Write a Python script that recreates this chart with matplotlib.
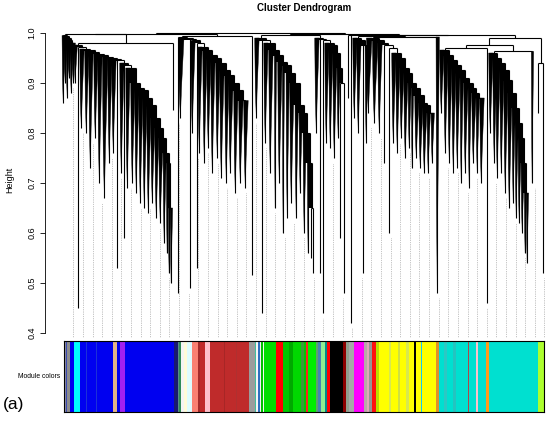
import matplotlib
matplotlib.use("Agg")
import matplotlib.pyplot as plt
from matplotlib.patches import Polygon, Rectangle
import numpy as np

plt.rcParams['font.family'] = ['Liberation Sans', 'DejaVu Sans']

# ---------- dendrogram data ----------
# each module branch: leaf order position, leaf bottom height, dense-branch width,
# and the heights at which each leaf joins the rest of the branch (left to right)
grey_pos = [0, 2, 4, 6, 8, 10]
grey_bottom = [0.86, 0.90, 0.87, 0.91, 0.88, 0.90]
grey_width = [3, 3, 3, 3, 3, 3]
grey_merge = [0.995, 0.993, 0.99, 0.985, 0.98]

blue_pos = [12, 15, 18, 23, 27, 32, 36, 41, 46, 50, 54, 58, 61, 64, 69, 73, 77, 81,
            85, 89, 93, 97, 101, 104, 106, 108]
blue_bottom = [0.90, 0.45, 0.81, 0.80, 0.73, 0.79, 0.70, 0.67, 0.74, 0.76, 0.53, 0.72,
               0.59, 0.69, 0.70, 0.68, 0.66, 0.65, 0.64, 0.66, 0.63, 0.62, 0.58, 0.56,
               0.52, 0.50]
blue_width = [3, 1, 4, 4, 4, 4, 4, 5, 4, 4, 1, 4, 1, 4, 4, 4, 4, 4, 4, 4, 4, 4, 3, 2, 2, 2]
blue_merge = [0.976, 0.972, 0.968, 0.965, 0.962, 0.958, 0.955, 0.952, 0.95, 0.948,
              0.945, 0.94, 0.935, 0.93, 0.90, 0.89, 0.885, 0.87, 0.855, 0.83, 0.81,
              0.79, 0.76, 0.74, 0.65]

red_pos = [117, 127, 129, 134, 136, 141, 145, 149, 154, 158, 163, 167, 172, 177, 182]
red_bottom = [0.83, 0.49, 0.80, 0.53, 0.76, 0.74, 0.77, 0.72, 0.75, 0.71, 0.70, 0.72,
              0.68, 0.70, 0.69]
red_width = [5, 1, 4, 1, 4, 4, 4, 4, 4, 4, 4, 4, 4, 4, 4]
red_merge = [0.99, 0.987, 0.985, 0.98, 0.972, 0.965, 0.955, 0.95, 0.94, 0.925, 0.915,
             0.90, 0.885, 0.865]

green_pos = [193, 199, 202, 207, 212, 216, 220, 224, 228, 233, 237, 241, 245, 248, 250]
green_bottom = [0.83, 0.44, 0.78, 0.72, 0.65, 0.70, 0.60, 0.63, 0.66, 0.63, 0.68, 0.60,
                0.56, 0.55, 0.52]
green_width = [4, 1, 4, 4, 2, 4, 2, 3, 4, 3, 3, 3, 2, 1, 1]
green_merge = [0.99, 0.985, 0.98, 0.966, 0.955, 0.943, 0.935, 0.92, 0.90, 0.856, 0.84,
               0.80, 0.74, 0.65]

black_pos = [253, 257, 260, 263, 267, 271, 275, 277, 281]
black_bottom = [0.80, 0.52, 0.44, 0.78, 0.77, 0.75, 0.79, 0.59, 0.48]
black_width = [4, 1, 1, 4, 4, 4, 3, 1, 1]
black_merge = [0.99, 0.987, 0.985, 0.98, 0.976, 0.96, 0.93, 0.90]

magenta_pos = [291, 295, 300, 303]
magenta_bottom = [0.83, 0.80, 0.52, 0.78]
magenta_width = [4, 4, 1, 3]
magenta_merge = [0.99, 0.985, 0.975]

yellow_pos = [305, 311, 316, 321, 326, 330, 334, 338, 342, 346, 349, 353, 357, 361,
              365, 369]
yellow_bottom = [0.84, 0.82, 0.80, 0.74, 0.60, 0.78, 0.76, 0.79, 0.75, 0.77, 0.73,
                 0.75, 0.73, 0.72, 0.72, 0.74]
yellow_width = [5, 5, 4, 1, 1, 4, 4, 4, 4, 3, 2, 4, 4, 4, 3, 3]
yellow_merge = [0.99, 0.985, 0.98, 0.976, 0.97, 0.96, 0.95, 0.93, 0.92, 0.90, 0.89,
                0.875, 0.86, 0.855, 0.84]

cyan1_pos = [378, 382, 386, 390, 394, 398, 402, 406, 410, 414, 418]
cyan1_bottom = [0.84, 0.76, 0.74, 0.72, 0.73, 0.70, 0.72, 0.69, 0.74, 0.72, 0.70]
cyan1_width = [4, 4, 4, 4, 4, 3, 4, 3, 4, 3, 4]
cyan1_merge = [0.966, 0.955, 0.945, 0.935, 0.925, 0.91, 0.90, 0.89, 0.88, 0.87]

cyan2_pos = [427, 431, 434, 438, 442, 446, 450, 453, 456, 459, 462, 464]
cyan2_bottom = [0.80, 0.74, 0.71, 0.72, 0.68, 0.65, 0.66, 0.63, 0.62, 0.60, 0.56, 0.54]
cyan2_width = [4, 4, 4, 4, 4, 4, 3, 3, 3, 3, 2, 2]
cyan2_merge = [0.96, 0.95, 0.94, 0.925, 0.905, 0.88, 0.85, 0.82, 0.79, 0.74, 0.68]

right_pos = [475, 480]
right_bottom = [0.84, 0.52]
right_width = [1, 1]
right_merge = [0.94]

# lone branches: position, bottom height, width
single_pos = [110, 115, 189, 285, 288, 374, 424, 469]
single_bottom = [0.845, 0.48, 0.516, 0.87, 0.42, 0.48, 0.46, 0.70]
single_width = [1, 1, 1, 1, 1, 3, 1, 2]

# top-level joins between branches (indices into the branch list, then new nodes)
link_a = [1, 0, 3, 20, 19, 6, 8, 11, 10, 13, 15, 27, 29, 26, 24, 23, 22]
link_b = [2, 18, 4, 5, 21, 7, 9, 12, 25, 14, 16, 28, 17, 30, 31, 32, 33]
link_h = [0.98, 0.997, 0.992, 0.994, 0.998, 0.996, 0.995, 0.992, 0.994, 0.97, 0.963,
          0.975, 0.99, 0.995, 0.996, 0.998, 0.999]

# module colour strip: start position of each run and its colour
module_start = [0, 2, 3, 6, 10, 16, 22, 23, 32, 33, 49, 53, 56, 61, 110, 114, 115, 117,
                120, 123, 128, 134, 136, 141, 146, 160, 161, 172, 173, 185, 191, 192,
                194, 196, 197, 199, 200, 212, 219, 225, 229, 237, 240, 242, 244, 252,
                254, 257, 261, 263, 266, 279, 282, 285, 290, 300, 303, 305, 308, 312,
                315, 325, 327, 334, 336, 342, 345, 350, 352, 357, 358, 372, 375, 380,
                383, 389, 392, 404, 405, 412, 414, 422, 425, 474]
module_color = ['#8a8aa0', '#3a4ab0', '#8c8c8c', '#0000f0', '#00ffff', '#0000f0',
                '#1c2fd8', '#0000f0', '#1c2fd8', '#0000f0', '#e3b487', '#0000f0',
                '#a020f0', '#0000f0', '#191970', '#5a8a8a', '#2e8b57', '#f4f4f4',
                '#fffbd8', '#dffcff', '#fa8072', '#a52a2a', '#c02a2a', '#ffc0cb',
                '#bf2b2b', '#a82626', '#bf2b2b', '#b03030', '#bf2b2b', '#9c9c9c',
                '#40c0a0', '#f4f4f4', '#2f6fc0', '#f0f0f0', '#00c000', '#f4f4f4',
                '#00dd00', '#ff0000', '#00c800', '#00a800', '#00d800', '#3a9a3a',
                '#00c800', '#ff2020', '#00ee00', '#5f9f6f', '#4682b4', '#90ee90',
                '#008b8b', '#ff0000', '#000000', '#8b0000', '#8f9f8f', '#a8a8a8',
                '#ff00ff', '#b8a8a8', '#e0a8b8', '#959595', '#ff1010', '#b8e000',
                '#ffff00', '#d8e850', '#ffff00', '#d0e040', '#ffff00', '#d8e850',
                '#ffff00', '#000000', '#ffff00', '#10c8ff', '#ffff00', '#e0902a',
                '#00e0d0', '#2cc8c4', '#00e0d0', '#24c4c0', '#00e0d0', '#b04848',
                '#00e0d0', '#ffc0cb', '#00e0d0', '#ff9a1a', '#00e0d0', '#adff2f']
n_genes_pos = 480
guide_count = 50

# ---------- build the tree ----------
node_x, node_h, parent_h = [], [], {}
leaves, merges, steps = [], [], []


def add_leaf(p, b, w):
    node_x.append(p)
    node_h.append(b)
    leaves.append((len(node_x) - 1, w))
    return len(node_x) - 1


def add_merge(a, b, h):
    node_x.append((node_x[a] + node_x[b]) / 2)
    node_h.append(h)
    merges.append((a, b, h))
    parent_h[a] = h
    parent_h[b] = h
    return len(node_x) - 1


def build_branch(pos, bottom, width, merge):
    ids = [add_leaf(p, b, w) for p, b, w in zip(pos, bottom, width)]
    root = ids[-1]
    for i in range(len(ids) - 2, -1, -1):
        if len(ids) - 2 - i >= 1 and width[i] > 1:
            steps.append((ids[i], root, merge[i]))
        root = add_merge(ids[i], root, merge[i])
    return root


groups = [
    build_branch(grey_pos, grey_bottom, grey_width, grey_merge),
    build_branch(blue_pos, blue_bottom, blue_width, blue_merge),
    add_leaf(single_pos[0], single_bottom[0], single_width[0]),
    add_leaf(single_pos[1], single_bottom[1], single_width[1]),
    build_branch(red_pos, red_bottom, red_width, red_merge),
    add_leaf(single_pos[2], single_bottom[2], single_width[2]),
    build_branch(green_pos, green_bottom, green_width, green_merge),
    build_branch(black_pos, black_bottom, black_width, black_merge),
    add_leaf(single_pos[3], single_bottom[3], single_width[3]),
    add_leaf(single_pos[4], single_bottom[4], single_width[4]),
    build_branch(magenta_pos, magenta_bottom, magenta_width, magenta_merge),
    build_branch(yellow_pos, yellow_bottom, yellow_width, yellow_merge),
    add_leaf(single_pos[5], single_bottom[5], single_width[5]),
    build_branch(cyan1_pos, cyan1_bottom, cyan1_width, cyan1_merge),
    add_leaf(single_pos[6], single_bottom[6], single_width[6]),
    build_branch(cyan2_pos, cyan2_bottom, cyan2_width, cyan2_merge),
    add_leaf(single_pos[7], single_bottom[7], single_width[7]),
    build_branch(right_pos, right_bottom, right_width, right_merge),
]
for a, b, h in zip(link_a, link_b, link_h):
    groups.append(add_merge(groups[a], groups[b], h))

# ---------- figure ----------
fig = plt.figure(figsize=(5.5, 4.22), dpi=100)

ax = fig.add_axes([45 / 550, 1 - 338 / 422, 500 / 550, 313 / 422])
ax.set_xlim(-18, 482)
ax.set_ylim(0.39, 1.016)

# guide lines
leaf_pos = np.array([node_x[n] for n, _ in leaves])
leaf_bot = np.array([node_h[n] for n, _ in leaves])
guide_x = np.linspace(10.3, 10.3 + 9.615 * (guide_count - 1), guide_count)
for gx in guide_x:
    top = leaf_bot[np.argmin(np.abs(leaf_pos - gx))] - 0.01
    ax.vlines(gx, 0.39, top, colors='#8c8c8c', linewidth=0.5,
              linestyles=(0, (1, 1.6)), zorder=1)

# dense staircase inside each branch: the step below each join is filled
for a, b, h in steps:
    lo = node_h[b]
    ax.add_patch(Rectangle((node_x[a], lo), node_x[b] - node_x[a], h - lo,
                           facecolor='black', edgecolor='none', zorder=2))

# dense sub-branches drawn as solid wedges
for nid, w in leaves:
    if w > 1:
        x, b, t = node_x[nid], node_h[nid], parent_h[nid]
        hw = 0.8 * w
        mid = b + 0.35 * (t - b)
        ax.add_patch(Polygon([(x - 0.4 * hw, t), (x + hw, t), (x + 0.35 * hw, mid),
                              (x + 0.1 * hw, b), (x - 0.2 * hw, mid)],
                             closed=True, facecolor='black', edgecolor='black',
                             linewidth=0.3, zorder=2))

# branches
for a, b, h in merges:
    ax.hlines(h, node_x[a], node_x[b], colors='black', linewidth=0.8, zorder=3)
    ax.vlines([node_x[a], node_x[b]], [node_h[a], node_h[b]], h,
              colors='black', linewidth=0.8, zorder=3)

for s in ['top', 'right', 'bottom']:
    ax.spines[s].set_visible(False)
ax.spines['left'].set_bounds(0.4, 1.0)
ax.spines['left'].set_linewidth(0.6)
ax.set_xticks([])
ax.set_yticks([0.4, 0.5, 0.6, 0.7, 0.8, 0.9, 1.0])
ax.set_yticklabels(['0.4', '0.5', '0.6', '0.7', '0.8', '0.9', '1.0'],
                   rotation=90, va='center')
ax.tick_params(axis='y', labelsize=6.5, length=3.6, width=0.6, pad=2.5)

# module colour strip
axc = fig.add_axes([63.5 / 550, 1 - 412 / 422, 480 / 550, 71 / 422])
starts = np.array(module_start)
widths = np.diff(np.append(starts, n_genes_pos))
axc.bar(starts, 1, width=widths, align='edge', color=module_color, linewidth=0)
axc.set_xlim(0, n_genes_pos)
axc.set_ylim(0, 1)
axc.set_xticks([])
axc.set_yticks([])
for s in axc.spines.values():
    s.set_linewidth(0.8)

fig.text(304 / 550, 1 - 8 / 422, 'Cluster Dendrogram', ha='center', va='center',
         fontsize=7, fontweight='bold')
fig.text(10 / 550, 1 - 180 / 422, 'Height', rotation=90, ha='center', va='center',
         fontsize=6.5)
fig.text(60 / 550, 1 - 377 / 422, 'Module colors', ha='right', va='center',
         fontsize=4.9)
fig.text(3 / 550, 1 - 404 / 422, '(a)', ha='left', va='center', fontsize=12.5)

fig.savefig('out.png', dpi=100)
